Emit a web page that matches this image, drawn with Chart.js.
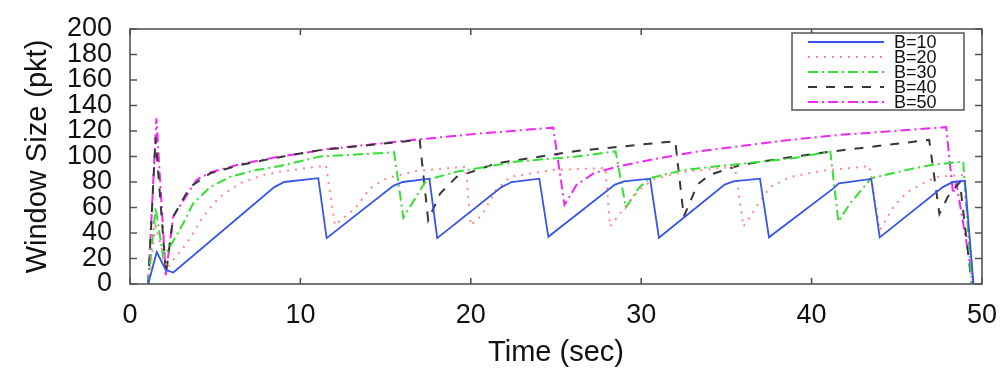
<!DOCTYPE html>
<html>
<head>
<meta charset="utf-8">
<script src="https://cdn.jsdelivr.net/npm/chart.js@4.4.1/dist/chart.umd.min.js"></script>
<style>
  html, body { margin: 0; padding: 0; background: #fff; }
</style>
</head>
<body>
<canvas id="cwnd" width="1007" height="370"></canvas>
<script>
// Window size traces (time in sec, window in pkt)
const b10Time = [1.07, 1.57, 2.1, 2.54, 8.47, 9.05, 11.05, 11.54, 15.45, 16.0, 17.57, 18.03, 21.8, 22.4, 24.02, 24.55, 28.46, 29.0, 30.52, 31.04, 34.9, 35.4, 36.97, 37.5, 41.28, 41.6, 43.5, 44.0, 47.7, 48.3, 49.0, 49.5];
const b10Win  = [0, 25, 11, 9, 76, 80, 83, 36, 77, 80, 82.6, 36, 76, 80, 82.6, 37, 78, 80.5, 82.6, 36.3, 78, 80.5, 82.6, 36.6, 75, 79, 82.4, 36.6, 76, 80, 81, 0];

const b20Time = [1.07, 1.5, 2.2, 2.35, 3.33, 4.3, 5.28, 6.46, 7.8, 8.8, 11.5, 12.03, 13.3, 14.08, 15.06, 16.8, 19.7, 20.0, 20.64, 21.5, 22.3, 24.8, 27.9, 28.17, 29.05, 29.9, 30.7, 32.5, 35.5, 36.0, 36.77, 37.56, 38.73, 40.7, 43.4, 44.0, 44.8, 45.6, 46.56, 47.3, 48.9, 49.5];
const b20Win  = [0, 45, 12, 16, 32, 53, 68.5, 79, 85.5, 88, 93, 46, 60.6, 75, 83, 88.6, 92, 46, 54, 74, 84, 89.4, 91, 45, 60.6, 74, 82, 88, 92, 45, 60.6, 76, 84, 89, 92.5, 42, 60.6, 72, 79, 84, 85.5, 0];

const b30Time = [1.07, 1.5, 1.95, 2.25, 3.13, 3.7, 4.7, 5.87, 7.43, 8.8, 11.15, 15.5, 16.04, 16.8, 17.4, 19.17, 22.7, 26.2, 28.5, 29.1, 29.9, 30.5, 32.5, 34.6, 38.9, 41.1, 41.57, 42.25, 43.5, 46.0, 47.0, 48.9, 49.4];
const b30Win  = [0, 60, 21, 27, 47.6, 63, 76, 84, 89.4, 92.5, 100, 103.3, 52, 68.5, 81.6, 88, 96, 100, 104, 60, 76, 83, 89.4, 92.5, 98.6, 103.8, 49, 63, 83, 90.7, 93.3, 96, 0];

const b40Time = [1.07, 1.5, 2.11, 2.54, 3.52, 4.7, 6.46, 8.4, 11.15, 14.08, 17.0, 17.5, 18.2, 19.17, 21.5, 26.2, 32.0, 32.5, 33.3, 34.0, 35.8, 38.9, 41.1, 46.9, 47.5, 48.0, 48.7, 49.4];
const b40Win  = [0, 115, 8, 53, 76, 86.8, 93.3, 98.6, 105, 109, 113, 50, 71, 84, 94.6, 104.3, 112, 52.8, 78, 85.5, 93.3, 99.8, 103.8, 113, 55, 68.5, 80, 0];

const b50Time = [1.07, 1.55, 2.1, 2.54, 3.9, 4.7, 6.46, 8.4, 11.7, 16.6, 20.5, 24.84, 25.5, 26.2, 27.2, 28.56, 30.5, 33.26, 38.7, 41.7, 47.9, 48.3, 48.5, 49.5];
const b50Win  = [0, 130, 7, 53, 81.6, 87.5, 94, 99, 106, 113, 118, 122.6, 62, 77.6, 86.8, 92, 97.3, 103.8, 113, 117, 123, 71, 79, 0];

const seriesLabels = ["B=10", "B=20", "B=30", "B=40", "B=50"];
const xTicks = [0, 10, 20, 30, 40, 50];
const yTicks = [0, 20, 40, 60, 80, 100, 120, 140, 160, 180, 200];

function pts(t, v) {
  return t.map((x, i) => ({ x: x, y: v[i] }));
}

const axisFont = { family: "'Liberation Sans', Arial, sans-serif", size: 27 };
const titleFont = { family: "'Liberation Sans', Arial, sans-serif", size: 29 };

// box round the plot with MATLAB-style inner ticks on all four sides
const frameTicks = {
  id: "frameTicks",
  afterDatasetsDraw(chart) {
    const { ctx, chartArea: a, scales } = chart;
    const x = scales.x, y = scales.y;
    ctx.save();
    ctx.strokeStyle = "#555";
    ctx.lineWidth = 1.6;
    ctx.setLineDash([]);
    ctx.strokeRect(a.left, a.top, a.right - a.left, a.bottom - a.top);
    ctx.beginPath();
    x.ticks.forEach(t => {
      const px = x.getPixelForValue(t.value);
      ctx.moveTo(px, a.bottom); ctx.lineTo(px, a.bottom - 6);
      ctx.moveTo(px, a.top); ctx.lineTo(px, a.top + 6);
    });
    y.ticks.forEach(t => {
      const py = y.getPixelForValue(t.value);
      ctx.moveTo(a.left, py); ctx.lineTo(a.left + 7, py);
      ctx.moveTo(a.right, py); ctx.lineTo(a.right - 7, py);
    });
    ctx.stroke();
    ctx.restore();
  }
};

// boxed legend in the top right corner of the plot
const boxLegend = {
  id: "boxLegend",
  afterDraw(chart) {
    const { ctx, chartArea: a } = chart;
    const sets = chart.data.datasets;
    const right = a.right - 18, top = a.top + 4;
    const w = 172, rowH = 15, h = 77;
    const left = right - w;
    ctx.save();
    ctx.fillStyle = "#fff";
    ctx.fillRect(left, top, w, h);
    ctx.strokeStyle = "#555";
    ctx.lineWidth = 1.5;
    ctx.strokeRect(left, top, w, h);
    ctx.font = "18px 'Liberation Sans', Arial, sans-serif";
    ctx.textBaseline = "middle";
    sets.forEach((ds, i) => {
      const yy = top + 9 + i * rowH;
      ctx.beginPath();
      ctx.strokeStyle = ds.borderColor;
      ctx.lineWidth = ds.borderWidth;
      ctx.setLineDash(ds.borderDash || []);
      ctx.moveTo(left + 16, yy);
      ctx.lineTo(left + 92, yy);
      ctx.stroke();
      ctx.setLineDash([]);
      ctx.fillStyle = "#111";
      ctx.fillText(ds.label, left + 102, yy + 1);
    });
    ctx.restore();
  }
};

const ctx = document.getElementById("cwnd").getContext("2d");

const chart = new Chart(ctx, {
  type: "line",
  data: {
    datasets: [
      { label: seriesLabels[0], data: pts(b10Time, b10Win), borderColor: "rgb(55, 85, 235)", borderWidth: 1.8, borderDash: [] },
      { label: seriesLabels[1], data: pts(b20Time, b20Win), borderColor: "rgb(255, 135, 140)", borderWidth: 2, borderDash: [2, 6] },
      { label: seriesLabels[2], data: pts(b30Time, b30Win), borderColor: "rgb(50, 225, 50)", borderWidth: 2, borderDash: [10, 4, 2, 4] },
      { label: seriesLabels[3], data: pts(b40Time, b40Win), borderColor: "rgb(55, 55, 55)", borderWidth: 2, borderDash: [9, 9] },
      { label: seriesLabels[4], data: pts(b50Time, b50Win), borderColor: "rgb(240, 40, 240)", borderWidth: 2, borderDash: [10, 4, 2, 4] },
    ],
  },
  options: {
    responsive: false,
    animation: false,
    elements: {
      point: { radius: 0 },
      line: { tension: 0, fill: false },
    },
    layout: { padding: { left: 0, right: 25, top: 29, bottom: 0 } },
    scales: {
      x: {
        type: "linear",
        min: 0,
        max: 50,
        afterFit: s => { s.height = 86; },
        afterBuildTicks: s => { s.ticks = xTicks.map(v => ({ value: v })); },
        ticks: { color: "#111", font: axisFont, padding: 7, maxRotation: 0, autoSkip: false },
        grid: { display: false },
        border: { display: false },
        title: { display: true, text: "Time (sec)", color: "#111", font: titleFont, padding: { top: 0, bottom: 0 } },
      },
      y: {
        min: 0,
        max: 200,
        afterFit: s => { s.width = 130; },
        afterBuildTicks: s => { s.ticks = yTicks.map(v => ({ value: v })); },
        ticks: { color: "#111", font: axisFont, padding: 10, autoSkip: false },
        grid: { display: false },
        border: { display: false },
        title: { display: true, text: "Window Size (pkt)", color: "#111", font: titleFont, padding: { top: 21, bottom: 0 } },
      },
    },
    plugins: {
      legend: { display: false },
      tooltip: { enabled: false },
    },
  },
  plugins: [frameTicks, boxLegend],
});
</script>
</body>
</html>
